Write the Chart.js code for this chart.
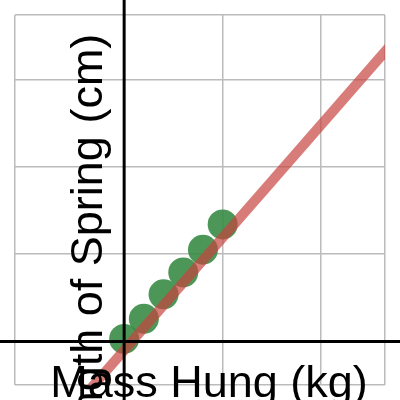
<!DOCTYPE html><html><head><style>html,body{margin:0;padding:0;background:#fff}#w{width:400px;height:400px}</style>
<script src="https://cdn.jsdelivr.net/npm/chart.js@4"></script></head><body><div id="w"><canvas id="c"></canvas></div>
<script>
const massKg=[0,0.2,0.4,0.6,0.8,1.0];
const lengthCm=[0.03,0.26,0.54,0.79,1.05,1.34];
const fitX=[-0.4,2.8];
const fitY=[-0.616,3.512];
const xLabel="Mass Hung (kg)";
const yLabel="Length of Spring (cm)";
const labels={id:'lab',afterDatasetsDraw(ch){const c=ch.ctx,x=ch.scales.x,y=ch.scales.y;c.save();c.strokeStyle='#000';c.lineWidth=3;
c.beginPath();c.moveTo(x.getPixelForValue(0),0);c.lineTo(x.getPixelForValue(0),400);c.moveTo(0,y.getPixelForValue(0));c.lineTo(400,y.getPixelForValue(0));c.stroke();
c.fillStyle='#000';c.font='45px "Liberation Sans", Arial';c.textAlign='center';c.textBaseline='alphabetic';c.fillText(xLabel,209,397);
c.translate(102,250);c.rotate(-Math.PI/2);c.fillText(yLabel,0,0);c.restore();}};
new Chart(document.getElementById('c'),{type:'scatter',data:{datasets:[
{data:massKg.map((m,i)=>({x:m,y:lengthCm[i]})),backgroundColor:'rgba(56,140,70,0.9)',borderWidth:0,pointRadius:15,order:2},
{type:'line',data:fitX.map((v,i)=>({x:v,y:fitY[i]})),borderColor:'rgba(199,68,64,0.7)',borderWidth:10,pointRadius:0,order:1}]},
options:{responsive:true,maintainAspectRatio:false,animation:false,layout:{padding:0},plugins:{legend:{display:false},tooltip:{enabled:false}},
scales:{x:{type:'linear',min:-1.108,max:2.648,afterFit(s){s.height=0;},ticks:{display:false,stepSize:1,padding:0},border:{display:false},grid:{color:'#bbb',lineWidth:1.5,drawTicks:false}},
y:{type:'linear',min:-0.497,max:3.735,afterFit(s){s.width=0;},ticks:{display:false,stepSize:1,padding:0},border:{display:false},grid:{color:'#bbb',lineWidth:1.5,drawTicks:false}}}},plugins:[labels]});
</script></body></html>
